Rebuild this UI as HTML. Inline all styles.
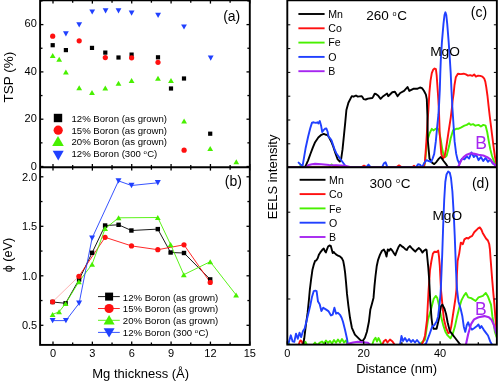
<!DOCTYPE html>
<html><head><meta charset="utf-8"><title>Figure</title>
<style>
html,body{margin:0;padding:0;background:#fff;}
body{width:498px;height:382px;overflow:hidden;}
svg{display:block;}
text{font-family:'Liberation Sans', Arial, Helvetica, sans-serif;}
</style></head><body>
<svg width="498" height="382" viewBox="0 0 498 382" font-family="'Liberation Sans', Arial, Helvetica, sans-serif">
<rect width="498" height="382" fill="#fff"/>
<rect x="50.6" y="43.1" width="4.2" height="4.2" fill="#000"/>
<rect x="63.8" y="48" width="4.2" height="4.2" fill="#000"/>
<rect x="89.9" y="45.8" width="4.2" height="4.2" fill="#000"/>
<rect x="103.2" y="50.5" width="4.2" height="4.2" fill="#000"/>
<rect x="116.4" y="55.4" width="4.2" height="4.2" fill="#000"/>
<rect x="129.5" y="52.5" width="4.2" height="4.2" fill="#000"/>
<rect x="155.9" y="55.2" width="4.2" height="4.2" fill="#000"/>
<rect x="168.9" y="86.4" width="4.2" height="4.2" fill="#000"/>
<rect x="181.9" y="76.4" width="4.2" height="4.2" fill="#000"/>
<rect x="208.1" y="131.6" width="4.2" height="4.2" fill="#000"/>
<circle cx="52.7" cy="36.2" r="2.6" fill="#ff1010"/>
<circle cx="79.2" cy="40.8" r="2.6" fill="#ff1010"/>
<circle cx="105.3" cy="57.6" r="2.6" fill="#ff1010"/>
<circle cx="131.6" cy="57.8" r="2.6" fill="#ff1010"/>
<circle cx="158" cy="62.3" r="2.6" fill="#ff1010"/>
<circle cx="184.1" cy="150.2" r="2.6" fill="#ff1010"/>
<polygon points="49.8,57.9 55.6,57.9 52.7,52.9" fill="#48f000"/>
<polygon points="56.3,61.8 62.1,61.8 59.2,56.8" fill="#48f000"/>
<polygon points="63,74.6 68.8,74.6 65.9,69.6" fill="#48f000"/>
<polygon points="76.3,90.2 82.1,90.2 79.2,85.2" fill="#48f000"/>
<polygon points="89.1,95.1 94.9,95.1 92,90.1" fill="#48f000"/>
<polygon points="102.4,90.5 108.2,90.5 105.3,85.5" fill="#48f000"/>
<polygon points="115.6,85.8 121.4,85.8 118.5,80.8" fill="#48f000"/>
<polygon points="128.7,83.1 134.5,83.1 131.6,78.1" fill="#48f000"/>
<polygon points="155.1,80.7 160.9,80.7 158,75.7" fill="#48f000"/>
<polygon points="168.1,83.1 173.9,83.1 171,78.1" fill="#48f000"/>
<polygon points="181.2,123.6 187,123.6 184.1,118.6" fill="#48f000"/>
<polygon points="207.3,151.1 213.1,151.1 210.2,146.1" fill="#48f000"/>
<polygon points="233.4,164.3 239.2,164.3 236.3,159.3" fill="#48f000"/>
<polygon points="63,31.3 68.8,31.3 65.9,36.5" fill="#2040ff"/>
<polygon points="76.3,22.3 82.1,22.3 79.2,27.5" fill="#2040ff"/>
<polygon points="89.3,9.4 95.1,9.4 92.2,14.6" fill="#2040ff"/>
<polygon points="102.7,8.3 108.5,8.3 105.6,13.5" fill="#2040ff"/>
<polygon points="115.6,8.3 121.4,8.3 118.5,13.5" fill="#2040ff"/>
<polygon points="128.7,10.6 134.5,10.6 131.6,15.8" fill="#2040ff"/>
<polygon points="155.2,12.8 161,12.8 158.1,18" fill="#2040ff"/>
<polygon points="181.1,24.4 186.9,24.4 184,29.6" fill="#2040ff"/>
<polygon points="207.8,55.5 213.6,55.5 210.7,60.7" fill="#2040ff"/>
<polyline points="52.6,302 65.6,303.3 79.1,279.5 92.1,252.8 105.1,225.5 118.6,224.8 131.4,230.5 157.8,229.1 170.6,252.5 184,253 210.2,279.4" fill="none" stroke="#000" stroke-width="0.9" stroke-linejoin="round" stroke-linecap="round"/>
<polyline points="52.6,301.8 78.9,276.3" fill="none" stroke="#ff8080" stroke-width="0.6" stroke-linejoin="round" stroke-linecap="round"/>
<polyline points="78.9,276.3 105.1,237.3 131.5,245.9 157.8,249.7 184,244.8 210.2,282.4" fill="none" stroke="#ff1010" stroke-width="0.9" stroke-linejoin="round" stroke-linecap="round"/>
<polyline points="52.6,314.4 59.1,311.8 65.6,303.5 78.9,281.7 92.1,264.3 105.1,228.6 118.6,217.8 157.8,217.5 170.6,244.5 183.8,274.7 210.2,261.7 236.1,294.9" fill="none" stroke="#48f000" stroke-width="0.9" stroke-linejoin="round" stroke-linecap="round"/>
<polyline points="52.6,320.6 65.9,320.6 79.1,303.3 92.1,238.1 118.5,180.9 131.5,185.5 157.8,182.8" fill="none" stroke="#2040ff" stroke-width="0.9" stroke-linejoin="round" stroke-linecap="round"/>
<rect x="50.4" y="299.8" width="4.4" height="4.4" fill="#000"/>
<rect x="63.4" y="301.1" width="4.4" height="4.4" fill="#000"/>
<rect x="76.9" y="277.3" width="4.4" height="4.4" fill="#000"/>
<rect x="89.9" y="250.6" width="4.4" height="4.4" fill="#000"/>
<rect x="102.9" y="223.3" width="4.4" height="4.4" fill="#000"/>
<rect x="116.4" y="222.6" width="4.4" height="4.4" fill="#000"/>
<rect x="129.2" y="228.3" width="4.4" height="4.4" fill="#000"/>
<rect x="155.6" y="226.9" width="4.4" height="4.4" fill="#000"/>
<rect x="168.4" y="250.3" width="4.4" height="4.4" fill="#000"/>
<rect x="181.8" y="250.8" width="4.4" height="4.4" fill="#000"/>
<rect x="208" y="277.2" width="4.4" height="4.4" fill="#000"/>
<circle cx="52.6" cy="301.8" r="2.6" fill="#ff1010"/>
<circle cx="78.9" cy="276.3" r="2.6" fill="#ff1010"/>
<circle cx="105.1" cy="237.3" r="2.6" fill="#ff1010"/>
<circle cx="131.5" cy="245.9" r="2.6" fill="#ff1010"/>
<circle cx="157.8" cy="249.7" r="2.6" fill="#ff1010"/>
<circle cx="184" cy="244.8" r="2.6" fill="#ff1010"/>
<circle cx="210.2" cy="282.4" r="2.6" fill="#ff1010"/>
<polygon points="49.7,316.9 55.5,316.9 52.6,311.9" fill="#48f000"/>
<polygon points="56.2,314.3 62,314.3 59.1,309.3" fill="#48f000"/>
<polygon points="62.7,306 68.5,306 65.6,301" fill="#48f000"/>
<polygon points="76,284.2 81.8,284.2 78.9,279.2" fill="#48f000"/>
<polygon points="89.2,266.8 95,266.8 92.1,261.8" fill="#48f000"/>
<polygon points="102.2,231.1 108,231.1 105.1,226.1" fill="#48f000"/>
<polygon points="115.7,220.3 121.5,220.3 118.6,215.3" fill="#48f000"/>
<polygon points="154.9,220 160.7,220 157.8,215" fill="#48f000"/>
<polygon points="167.7,247 173.5,247 170.6,242" fill="#48f000"/>
<polygon points="180.9,277.2 186.7,277.2 183.8,272.2" fill="#48f000"/>
<polygon points="207.3,264.2 213.1,264.2 210.2,259.2" fill="#48f000"/>
<polygon points="233.2,297.4 239,297.4 236.1,292.4" fill="#48f000"/>
<polygon points="49.6,317.9 55.6,317.9 52.6,323.3" fill="#2040ff"/>
<polygon points="62.9,317.9 68.9,317.9 65.9,323.3" fill="#2040ff"/>
<polygon points="76.1,300.6 82.1,300.6 79.1,306" fill="#2040ff"/>
<polygon points="89.1,235.4 95.1,235.4 92.1,240.8" fill="#2040ff"/>
<polygon points="115.5,178.2 121.5,178.2 118.5,183.6" fill="#2040ff"/>
<polygon points="128.5,182.8 134.5,182.8 131.5,188.2" fill="#2040ff"/>
<polygon points="154.8,180.1 160.8,180.1 157.8,185.5" fill="#2040ff"/>
<g clip-path="url(#clipc)">
<polyline points="287.5,167.5 299,167.5 301,165.3 303,167.5 329,167.5 331.6,164.4 334,167.5 424,167.5 425.5,158 427.1,141.4 429.5,133.5 431.8,128.8 433.4,130.4 435.8,128.8 437.3,128 438.9,130.4 440.5,138.2 442,147.6 443.6,155.5 445.2,157.1 446.7,155.5 449.1,146.1 450.7,138.2 453,130.4 456.2,128.8 458.1,128.8 461.3,127.3 464.4,125.7 466.8,124.9 469.1,123.3 470.7,124.9 473.1,124.1 475.4,125.7 478.5,124.9 480.9,126.5 483.3,124.9 485.6,125.7 487.2,132 488.8,141.4 490.3,149.2 491.9,155.5 493.5,160.2 495,163.4 496.5,166" fill="none" stroke="#48f000" stroke-width="1.9" stroke-linejoin="round" stroke-linecap="round"/>
<polyline points="287.5,167.5 333,167.5 336,165.6 339,167.5 361,167.5 364,165.6 367,167.5 396,167.5 399,165.4 402,167.5 412,167.5 414,165.8 416,167.5 423.5,167.5 424.8,163.3 426.4,141.4 427.5,122.5 428.4,110 429.4,92.7 430.5,80.9 431.8,73.1 433.1,69.8 434.6,68.5 435.9,69.2 436.7,75.7 437.6,88.8 438.3,99.2 439,112 439.7,133.5 441.3,153.9 442.8,158.6 444.4,157.1 446,149.2 448.3,133.5 450.7,117.8 451.9,108 452.7,100 453.7,93 454.5,85 455.8,77.3 457.9,73.7 460.8,74.1 463.7,73.7 465.9,74.4 468,75.6 470.2,75.1 472.3,75.9 474.2,74.4 475.9,76.6 478.1,75.6 480.3,75.9 482.4,76.6 484.3,78.7 485.3,81.6 486.3,87.4 487.5,96 488.6,106.1 489.6,115 490.6,123 491.9,133.5 493.5,146.1 495,157.1 496.6,164.2" fill="none" stroke="#ff1010" stroke-width="1.9" stroke-linejoin="round" stroke-linecap="round"/>
<polyline points="287.5,167.5 304,167.5 305.7,165.8 308.1,160.3 310.4,154 312.8,147.7 315.1,142.2 318.3,137.5 321.4,134.8 323.8,133.9 326.1,134.8 327.7,135.1 329.3,137.9 331.2,141.5 333.2,146.5 335.5,153.5 337.7,159.4 339.8,161.5 341.1,159.4 342.5,149.7 343.9,135.8 345.3,121.9 346.4,110 348.4,102.7 351.8,96.1 353.6,96.7 356,95.5 357.8,96.6 361.4,96.1 362.4,96.9 363.6,99.1 365.7,99.5 368,98.6 372.3,98 373.3,96.5 374.7,93.7 375.9,94 378.3,95.8 380.6,98.8 383.2,96.2 387.1,93.5 388.2,96.2 392.3,92.2 394.9,91.7 397.6,96.2 400.2,93 404.1,90.9 407.5,87 409.3,90.9 413.3,88.8 417.2,88.8 420,87.5 422,88.1 423.9,90.7 425.9,94.6 426.8,99.2 427.4,115 427.8,140 429.5,158.6 431.8,162.5 434.2,164.1 436.5,161.8 438.9,158.6 440.5,157.1 442,158.6 443.6,161 446,164.1 447.5,166.5 449,167.5 495.5,167.5" fill="none" stroke="#000" stroke-width="1.9" stroke-linejoin="round" stroke-linecap="round"/>
<polyline points="298.6,162.6 300.5,164.5 302.6,165.8 304.1,157.1 305.7,147.7 308.1,136.7 310.1,128.8 312,122.6 313.6,122.3 315.9,122.9 317.5,122.3 318.3,123.4 319.8,121 321.1,125.7 322.2,132 323.3,130.4 324.9,128.8 326.4,128.5 327.7,132 328.5,136.7 330.1,138.3 331.6,140.6 333.2,145.3 334.8,150 336.3,153.2 337.9,155.5 339.5,157.9 341.8,161 344.2,164.2 346,167.5 366,167.5 368.5,164.6 371,167.5 382,167.5 384,163.2 385.5,162.2 387.5,167.5 416,167.5 418,164.2 420,164.6 422,167.5 424,163.3 426.4,160.2 428.7,161 431.1,161.8 432.6,158.6 434.2,153.9 435.8,141.4 437.3,125.7 438.4,114.7 439.1,104 439.8,90 440.3,73.1 440.8,60 441.9,42.4 443.5,23.6 444.5,15 445.4,12.3 446.3,15 447.2,23.6 448.7,42.4 449.9,60 450.7,73.1 451.6,92.7 452.4,108 453.2,120 454.6,141.4 456.2,153.9 457.7,160.2 459.3,163.5 460.2,161.8 462.1,158.6 464.4,159.4 466.8,156.3 469.1,158.6 471.5,152.4 473.8,157.1 476.2,154.7 478.5,160.2 480.9,157.1 483.3,161 485.6,157.9 488,161.8 490.3,159.4 492.7,163.4 495,165 496.5,167.5" fill="none" stroke="#2040ff" stroke-width="1.9" stroke-linejoin="round" stroke-linecap="round"/>
<polyline points="287.5,167.5 306,167.5 308.8,165 312,164.3 315.1,163.9 321.4,164.2 329.3,165 337.1,165.3 345,165.8 352,167.5 457,167.5 458.9,165.7 461.3,160.2 463.6,157.1 466.8,154.7 470.7,153.2 474.6,153.9 478.5,154.7 483.3,155.5 487.2,157.1 490.3,159.4 492.7,162.6 495,165 496.5,167" fill="none" stroke="#a626f0" stroke-width="2.1" stroke-linejoin="round" stroke-linecap="round"/>
</g>
<g clip-path="url(#clipd)">
<polyline points="287.5,345.2 288.5,342.5 290,345.2 304,345.2 305.5,341.8 307,345.2 313,345.2 315,342.5 317,345.2 320,342.5 322,341.5 324,343.5 326,340.5 328,342.8 330,341 332,343.5 334,340 336,342.8 338,339.5 340,342.5 342,339 344,342.5 346,340.5 348,345.2 372,345.2 373.9,340 375.5,337.7 377,341.5 378.5,338 380,341 381.8,345.2 418,345.2 421,343 425,339.7 428,319.8 431.5,307.6 433.7,298.8 435.9,295.9 437.3,298.1 438.8,304.6 441,316.4 443.2,325.1 445.4,331.7 447.6,335.4 450.5,338.3 452.7,333.9 454.9,326.6 457.1,316.4 459.3,307.6 461.5,300.2 463.8,295.9 466,292.9 468.2,297.3 471.2,298.1 475.6,301 478.5,297.3 482.9,295.9 485.8,292.9 488,296.6 491,304.7 492.4,316.4 493.9,325.2 494.9,331.9 496.5,337" fill="none" stroke="#48f000" stroke-width="1.9" stroke-linejoin="round" stroke-linecap="round"/>
<polyline points="287.5,345.2 298.5,345.2 299.8,341.5 300.7,340.5 301.8,341.5 303,345.2 382,345.2 384,341 385.8,339.7 387.5,342.5 390,339.5 392.5,341.5 395,345.2 421,345.2 423,342 425,335.7 427,319.8 428.6,289.9 430,270 431.4,261 432.9,253.6 434.5,251.7 436.6,252 438.2,250.6 439,256.7 439.8,266 441,290 442.4,304.6 443.9,319.3 446.1,328.1 448.3,333.2 449.8,332.5 451.2,326.6 453.4,312 455.6,297.3 456.4,290 456.9,275 457.6,261 459.2,253.6 460.8,242.6 462.8,244.2 464.4,239.4 466.7,237.9 468.3,238.5 470.3,236.8 472.2,235.9 474.2,232.2 476.2,230.3 478.1,228.3 479.8,227.4 481.4,229.6 482.7,232.9 484.5,236 486,238.5 487.9,240.5 489.2,244 489.9,249 490.6,259 492.1,278.6 493.5,294.9 494.4,304.7 495.4,317.7 496.5,330" fill="none" stroke="#ff1010" stroke-width="1.9" stroke-linejoin="round" stroke-linecap="round"/>
<polyline points="287.5,345.2 303,345.2 304.2,338.8 305.9,325 307.6,312.9 309,299 309.8,290 311.1,279.3 312.4,270.1 313.7,264.9 315.1,260.9 316.4,260.3 317.7,258.3 319,254.4 320.3,252.4 322.3,249.8 323.8,248.5 324.9,251.1 325.9,252.4 326.8,249.8 328.1,246.5 329.5,245.5 330.8,245.9 331.7,249.2 332.7,253.1 333.8,252 334.7,253.1 336,254.4 338,255.7 339.9,256.4 341.9,258.3 343.2,260.9 344.2,266.2 345.1,272.7 346,282 347,293.9 348.4,305.9 350,317.8 351.9,327.8 354.9,334.7 357.9,337.7 360.9,340.7 362.9,340.7 364.9,337.7 366.9,331.8 368.9,321.8 370.3,309.8 371.9,303.9 373.5,297.9 374.5,285.9 375.5,276 376.7,266.3 378.1,259.8 380,254.6 382,250.7 383.9,249.6 385.2,252 386.5,256.5 387.8,249.4 389.2,250.7 390.5,248.7 391.8,250 393.5,252.6 395.3,255.2 397,250.7 398.7,246.7 400,244.8 401.6,246.1 403.5,247.4 405.5,249.4 406.8,250 408.3,247.4 410,246.1 411.7,248.1 413.6,250 415.3,251.7 417.2,249.4 418.8,248.1 420.5,249.4 422.4,252.6 424,250.7 425.7,249.4 426.6,250 427.4,258.5 428.3,267.6 429.2,280 430.2,300 431.5,318 432.5,326 433.7,328.8 436.6,328.8 438.8,319.3 441,306.1 442.4,304.6 444.6,309 446.1,314.2 447.6,322.2 449.8,331 452,333.9 454.2,336.8 457.1,340.5 459.3,343.4 461,345.2 495.5,345.2" fill="none" stroke="#000" stroke-width="1.9" stroke-linejoin="round" stroke-linecap="round"/>
<polyline points="288.6,343.1 290.8,335.3 292.6,341.4 294.3,341.9 296,333.6 297.8,338.8 299.5,332.7 301.2,337.1 303,331 304.7,328.4 306.4,321.5 308.1,314.6 310.2,305.9 311.9,297.3 313.7,291.2 315.4,290.7 316.6,291.2 318,301.6 319.7,304.2 321.4,311.1 323.2,307.7 325.8,309.4 328.4,311.1 331,315.4 332.7,314.6 334.4,307.7 336.1,313.7 338,312.8 340,314.8 341.6,317.8 343,321.8 345,329.8 347,338.7 348,345.2 400,345.2 401.5,336 403,341 405,338 407,341.5 409,339 411,342 413,340 415,342.5 417,340 419,342.5 421,345.2 424,345.2 426,343.6 429,335.7 432.2,326.6 434.4,325.1 436.6,321.5 438.1,316.4 439.5,304.6 440.5,294.4 441,285 441.6,270 442.2,255 442.7,240 443.2,225 444.2,200 445.3,182 446.5,174.5 448.2,171.5 449.8,172.8 451,178 452.4,191.5 453.8,215.1 454.7,235 455.4,253.6 456,270 456.6,282 457.1,290 458.5,301.7 460.7,309 462.3,316 463.8,326.7 465.3,331.9 466.7,325.2 468.2,322.3 469.7,326.7 471.9,329.6 474.1,328.2 477,326 478.5,324.5 480,328.2 481.4,326 483.6,329.6 485.8,332.6 488,335.5 490.2,341.4 492.4,345.2 495.5,345.2" fill="none" stroke="#2040ff" stroke-width="1.9" stroke-linejoin="round" stroke-linecap="round"/>
<polyline points="287.5,345.2 346,345.2 348,343.7 353,342.5 357.9,341.7 363,342.2 367.9,342.7 370.9,345.2 465,345.2 466,344.3 468.2,334 471.2,323.8 474.1,319.4 478.5,317.2 484.4,316.1 488.8,317.2 491.7,320.1 493.9,325.2 495.4,330.4 496.5,334" fill="none" stroke="#a626f0" stroke-width="2.1" stroke-linejoin="round" stroke-linecap="round"/>
</g>
<defs><clipPath id="clipc"><rect x="287" y="0" width="210" height="167"/></clipPath><clipPath id="clipd"><rect x="287" y="167" width="210" height="177.5"/></clipPath></defs>
<line x1="53" y1="0.3" x2="53" y2="3.6" stroke="#000" stroke-width="1.3"/>
<line x1="53" y1="167.3" x2="53" y2="164" stroke="#000" stroke-width="1.3"/>
<line x1="53" y1="167.3" x2="53" y2="170.6" stroke="#000" stroke-width="1.3"/>
<line x1="53" y1="344.9" x2="53" y2="341.6" stroke="#000" stroke-width="1.3"/>
<line x1="72.68" y1="0.3" x2="72.68" y2="2.7" stroke="#000" stroke-width="1.3"/>
<line x1="72.68" y1="167.3" x2="72.68" y2="164.9" stroke="#000" stroke-width="1.3"/>
<line x1="72.68" y1="167.3" x2="72.68" y2="169.7" stroke="#000" stroke-width="1.3"/>
<line x1="72.68" y1="344.9" x2="72.68" y2="342.5" stroke="#000" stroke-width="1.3"/>
<line x1="92.36" y1="0.3" x2="92.36" y2="3.6" stroke="#000" stroke-width="1.3"/>
<line x1="92.36" y1="167.3" x2="92.36" y2="164" stroke="#000" stroke-width="1.3"/>
<line x1="92.36" y1="167.3" x2="92.36" y2="170.6" stroke="#000" stroke-width="1.3"/>
<line x1="92.36" y1="344.9" x2="92.36" y2="341.6" stroke="#000" stroke-width="1.3"/>
<line x1="112.04" y1="0.3" x2="112.04" y2="2.7" stroke="#000" stroke-width="1.3"/>
<line x1="112.04" y1="167.3" x2="112.04" y2="164.9" stroke="#000" stroke-width="1.3"/>
<line x1="112.04" y1="167.3" x2="112.04" y2="169.7" stroke="#000" stroke-width="1.3"/>
<line x1="112.04" y1="344.9" x2="112.04" y2="342.5" stroke="#000" stroke-width="1.3"/>
<line x1="131.72" y1="0.3" x2="131.72" y2="3.6" stroke="#000" stroke-width="1.3"/>
<line x1="131.72" y1="167.3" x2="131.72" y2="164" stroke="#000" stroke-width="1.3"/>
<line x1="131.72" y1="167.3" x2="131.72" y2="170.6" stroke="#000" stroke-width="1.3"/>
<line x1="131.72" y1="344.9" x2="131.72" y2="341.6" stroke="#000" stroke-width="1.3"/>
<line x1="151.4" y1="0.3" x2="151.4" y2="2.7" stroke="#000" stroke-width="1.3"/>
<line x1="151.4" y1="167.3" x2="151.4" y2="164.9" stroke="#000" stroke-width="1.3"/>
<line x1="151.4" y1="167.3" x2="151.4" y2="169.7" stroke="#000" stroke-width="1.3"/>
<line x1="151.4" y1="344.9" x2="151.4" y2="342.5" stroke="#000" stroke-width="1.3"/>
<line x1="171.08" y1="0.3" x2="171.08" y2="3.6" stroke="#000" stroke-width="1.3"/>
<line x1="171.08" y1="167.3" x2="171.08" y2="164" stroke="#000" stroke-width="1.3"/>
<line x1="171.08" y1="167.3" x2="171.08" y2="170.6" stroke="#000" stroke-width="1.3"/>
<line x1="171.08" y1="344.9" x2="171.08" y2="341.6" stroke="#000" stroke-width="1.3"/>
<line x1="190.76" y1="0.3" x2="190.76" y2="2.7" stroke="#000" stroke-width="1.3"/>
<line x1="190.76" y1="167.3" x2="190.76" y2="164.9" stroke="#000" stroke-width="1.3"/>
<line x1="190.76" y1="167.3" x2="190.76" y2="169.7" stroke="#000" stroke-width="1.3"/>
<line x1="190.76" y1="344.9" x2="190.76" y2="342.5" stroke="#000" stroke-width="1.3"/>
<line x1="210.44" y1="0.3" x2="210.44" y2="3.6" stroke="#000" stroke-width="1.3"/>
<line x1="210.44" y1="167.3" x2="210.44" y2="164" stroke="#000" stroke-width="1.3"/>
<line x1="210.44" y1="167.3" x2="210.44" y2="170.6" stroke="#000" stroke-width="1.3"/>
<line x1="210.44" y1="344.9" x2="210.44" y2="341.6" stroke="#000" stroke-width="1.3"/>
<line x1="230.12" y1="0.3" x2="230.12" y2="2.7" stroke="#000" stroke-width="1.3"/>
<line x1="230.12" y1="167.3" x2="230.12" y2="164.9" stroke="#000" stroke-width="1.3"/>
<line x1="230.12" y1="167.3" x2="230.12" y2="169.7" stroke="#000" stroke-width="1.3"/>
<line x1="230.12" y1="344.9" x2="230.12" y2="342.5" stroke="#000" stroke-width="1.3"/>
<line x1="249.8" y1="0.3" x2="249.8" y2="3.6" stroke="#000" stroke-width="1.3"/>
<line x1="249.8" y1="167.3" x2="249.8" y2="164" stroke="#000" stroke-width="1.3"/>
<line x1="249.8" y1="167.3" x2="249.8" y2="170.6" stroke="#000" stroke-width="1.3"/>
<line x1="249.8" y1="344.9" x2="249.8" y2="341.6" stroke="#000" stroke-width="1.3"/>
<line x1="40.1" y1="166.5" x2="43.4" y2="166.5" stroke="#000" stroke-width="1.3"/>
<line x1="249.8" y1="166.5" x2="246.5" y2="166.5" stroke="#000" stroke-width="1.3"/>
<line x1="40.1" y1="142.85" x2="42.5" y2="142.85" stroke="#000" stroke-width="1.3"/>
<line x1="249.8" y1="142.85" x2="247.4" y2="142.85" stroke="#000" stroke-width="1.3"/>
<line x1="40.1" y1="119.2" x2="43.4" y2="119.2" stroke="#000" stroke-width="1.3"/>
<line x1="249.8" y1="119.2" x2="246.5" y2="119.2" stroke="#000" stroke-width="1.3"/>
<line x1="40.1" y1="95.55" x2="42.5" y2="95.55" stroke="#000" stroke-width="1.3"/>
<line x1="249.8" y1="95.55" x2="247.4" y2="95.55" stroke="#000" stroke-width="1.3"/>
<line x1="40.1" y1="71.9" x2="43.4" y2="71.9" stroke="#000" stroke-width="1.3"/>
<line x1="249.8" y1="71.9" x2="246.5" y2="71.9" stroke="#000" stroke-width="1.3"/>
<line x1="40.1" y1="48.25" x2="42.5" y2="48.25" stroke="#000" stroke-width="1.3"/>
<line x1="249.8" y1="48.25" x2="247.4" y2="48.25" stroke="#000" stroke-width="1.3"/>
<line x1="40.1" y1="24.6" x2="43.4" y2="24.6" stroke="#000" stroke-width="1.3"/>
<line x1="249.8" y1="24.6" x2="246.5" y2="24.6" stroke="#000" stroke-width="1.3"/>
<line x1="40.1" y1="0.95" x2="42.5" y2="0.95" stroke="#000" stroke-width="1.3"/>
<line x1="249.8" y1="0.95" x2="247.4" y2="0.95" stroke="#000" stroke-width="1.3"/>
<line x1="40.1" y1="325.3" x2="43.4" y2="325.3" stroke="#000" stroke-width="1.3"/>
<line x1="249.8" y1="325.3" x2="246.5" y2="325.3" stroke="#000" stroke-width="1.3"/>
<line x1="40.1" y1="300.55" x2="42.5" y2="300.55" stroke="#000" stroke-width="1.3"/>
<line x1="249.8" y1="300.55" x2="247.4" y2="300.55" stroke="#000" stroke-width="1.3"/>
<line x1="40.1" y1="275.8" x2="43.4" y2="275.8" stroke="#000" stroke-width="1.3"/>
<line x1="249.8" y1="275.8" x2="246.5" y2="275.8" stroke="#000" stroke-width="1.3"/>
<line x1="40.1" y1="251.05" x2="42.5" y2="251.05" stroke="#000" stroke-width="1.3"/>
<line x1="249.8" y1="251.05" x2="247.4" y2="251.05" stroke="#000" stroke-width="1.3"/>
<line x1="40.1" y1="226.3" x2="43.4" y2="226.3" stroke="#000" stroke-width="1.3"/>
<line x1="249.8" y1="226.3" x2="246.5" y2="226.3" stroke="#000" stroke-width="1.3"/>
<line x1="40.1" y1="201.55" x2="42.5" y2="201.55" stroke="#000" stroke-width="1.3"/>
<line x1="249.8" y1="201.55" x2="247.4" y2="201.55" stroke="#000" stroke-width="1.3"/>
<line x1="40.1" y1="176.8" x2="43.4" y2="176.8" stroke="#000" stroke-width="1.3"/>
<line x1="249.8" y1="176.8" x2="246.5" y2="176.8" stroke="#000" stroke-width="1.3"/>
<line x1="287.3" y1="344.6" x2="287.3" y2="341.3" stroke="#000" stroke-width="1.3"/>
<line x1="325.5" y1="344.6" x2="325.5" y2="342.2" stroke="#000" stroke-width="1.3"/>
<line x1="363.7" y1="344.6" x2="363.7" y2="341.3" stroke="#000" stroke-width="1.3"/>
<line x1="401.9" y1="344.6" x2="401.9" y2="342.2" stroke="#000" stroke-width="1.3"/>
<line x1="440.1" y1="344.6" x2="440.1" y2="341.3" stroke="#000" stroke-width="1.3"/>
<line x1="478.3" y1="344.6" x2="478.3" y2="342.2" stroke="#000" stroke-width="1.3"/>
<line x1="287.3" y1="143.8" x2="290.3" y2="143.8" stroke="#000" stroke-width="1.0"/>
<line x1="496.85" y1="143.8" x2="493.85" y2="143.8" stroke="#000" stroke-width="1.0"/>
<line x1="287.3" y1="120" x2="290.3" y2="120" stroke="#000" stroke-width="1.0"/>
<line x1="496.85" y1="120" x2="493.85" y2="120" stroke="#000" stroke-width="1.0"/>
<line x1="287.3" y1="96.2" x2="290.3" y2="96.2" stroke="#000" stroke-width="1.0"/>
<line x1="496.85" y1="96.2" x2="493.85" y2="96.2" stroke="#000" stroke-width="1.0"/>
<line x1="287.3" y1="72.4" x2="290.3" y2="72.4" stroke="#000" stroke-width="1.0"/>
<line x1="496.85" y1="72.4" x2="493.85" y2="72.4" stroke="#000" stroke-width="1.0"/>
<line x1="287.3" y1="48.6" x2="290.3" y2="48.6" stroke="#000" stroke-width="1.0"/>
<line x1="496.85" y1="48.6" x2="493.85" y2="48.6" stroke="#000" stroke-width="1.0"/>
<line x1="287.3" y1="24.8" x2="290.3" y2="24.8" stroke="#000" stroke-width="1.0"/>
<line x1="496.85" y1="24.8" x2="493.85" y2="24.8" stroke="#000" stroke-width="1.0"/>
<line x1="287.3" y1="212.2" x2="290.3" y2="212.2" stroke="#000" stroke-width="1.0"/>
<line x1="496.85" y1="212.2" x2="493.85" y2="212.2" stroke="#000" stroke-width="1.0"/>
<line x1="287.3" y1="255.6" x2="290.3" y2="255.6" stroke="#000" stroke-width="1.0"/>
<line x1="496.85" y1="255.6" x2="493.85" y2="255.6" stroke="#000" stroke-width="1.0"/>
<line x1="287.3" y1="299" x2="290.3" y2="299" stroke="#000" stroke-width="1.0"/>
<line x1="496.85" y1="299" x2="493.85" y2="299" stroke="#000" stroke-width="1.0"/>
<rect x="40.1" y="0.3" width="209.7" height="344.6" fill="none" stroke="#000" stroke-width="1.9"/>
<line x1="40.1" y1="167.3" x2="249.8" y2="167.3" stroke="#000" stroke-width="1.9"/>
<rect x="287.3" y="0.3" width="209.55" height="344.3" fill="none" stroke="#000" stroke-width="1.9"/>
<line x1="287.3" y1="167.3" x2="496.85" y2="167.3" stroke="#000" stroke-width="1.9"/>
<text x="36.8" y="27" font-size="11" text-anchor="end" fill="#000">60</text>
<text x="36.8" y="74.6" font-size="11" text-anchor="end" fill="#000">40</text>
<text x="36.8" y="122" font-size="11" text-anchor="end" fill="#000">20</text>
<text x="36.8" y="169.7" font-size="11" text-anchor="end" fill="#000">0</text>
<text x="37.2" y="180.6" font-size="11" text-anchor="end" fill="#000">2.0</text>
<text x="37.2" y="230" font-size="11" text-anchor="end" fill="#000">1.5</text>
<text x="37.2" y="279.6" font-size="11" text-anchor="end" fill="#000">1.0</text>
<text x="37.2" y="329" font-size="11" text-anchor="end" fill="#000">0.5</text>
<text x="53" y="356.8" font-size="11" text-anchor="middle" fill="#000">0</text>
<text x="92.36" y="356.8" font-size="11" text-anchor="middle" fill="#000">3</text>
<text x="131.72" y="356.8" font-size="11" text-anchor="middle" fill="#000">6</text>
<text x="171.08" y="356.8" font-size="11" text-anchor="middle" fill="#000">9</text>
<text x="210.44" y="356.8" font-size="11" text-anchor="middle" fill="#000">12</text>
<text x="249.8" y="356.8" font-size="11" text-anchor="middle" fill="#000">15</text>
<text x="287.3" y="356.8" font-size="11" text-anchor="middle" fill="#000">0</text>
<text x="363.7" y="356.8" font-size="11" text-anchor="middle" fill="#000">20</text>
<text x="440.1" y="356.8" font-size="11" text-anchor="middle" fill="#000">40</text>
<text x="140.7" y="377.6" font-size="13" text-anchor="middle" fill="#000">Mg thickness (&#197;)</text>
<text x="396.7" y="373.4" font-size="13" text-anchor="middle" fill="#000">Distance (nm)</text>
<text transform="translate(12.6,77.2) rotate(-90)" font-size="13.5" text-anchor="middle">TSP (%)</text>
<text transform="translate(11.9,255) rotate(-90)" font-size="12.7" text-anchor="middle">&#981; (eV)</text>
<text transform="translate(277.2,176.9) rotate(-90)" font-size="13" text-anchor="middle">EELS intensity</text>
<text x="231.7" y="20.6" font-size="14" text-anchor="middle" fill="#000">(a)</text>
<text x="233.4" y="185.9" font-size="14" text-anchor="middle" fill="#000">(b)</text>
<text x="479" y="17.2" font-size="14" text-anchor="middle" fill="#000">(c)</text>
<text x="480.5" y="187.6" font-size="14" text-anchor="middle" fill="#000">(d)</text>
<rect x="53.8" y="113.8" width="8.4" height="8.4" fill="#000"/>
<circle cx="58.2" cy="130.2" r="4.6" fill="#ff1010"/>
<polygon points="52.2,145.9 63.8,145.9 58,136.1" fill="#48f000"/>
<polygon points="52.7,150.8 63.7,150.8 58.2,160.4" fill="#2040ff"/>
<text x="71.5" y="122" font-size="9.6" text-anchor="start" fill="#000">12% Boron (as grown)</text>
<text x="71.5" y="133.6" font-size="9.6" text-anchor="start" fill="#000">15% Boron (as grown)</text>
<text x="71.5" y="145.2" font-size="9.6" text-anchor="start" fill="#000">20% Boron (as grown)</text>
<text x="71.5" y="157" font-size="9.6" text-anchor="start" fill="#000">12% Boron (300 <tspan font-size="6" dy="-2.7">o</tspan><tspan dx="0.3" dy="2.7">C)</tspan></text>
<line x1="98" y1="296.6" x2="119.8" y2="296.6" stroke="#000" stroke-width="0.9"/>
<line x1="98" y1="308.5" x2="119.8" y2="308.5" stroke="#ff1010" stroke-width="0.9"/>
<line x1="98" y1="320.3" x2="119.8" y2="320.3" stroke="#48f000" stroke-width="0.9"/>
<line x1="98" y1="332.4" x2="119.8" y2="332.4" stroke="#2040ff" stroke-width="0.9"/>
<rect x="105.1" y="292.6" width="8" height="8" fill="#000"/>
<circle cx="109.1" cy="308.5" r="4.6" fill="#ff1010"/>
<polygon points="103.6,324.5 114.6,324.5 109.1,315.1" fill="#48f000"/>
<polygon points="103.6,328.2 114.6,328.2 109.1,337.6" fill="#2040ff"/>
<text x="122.8" y="300.6" font-size="9.6" text-anchor="start" fill="#000">12% Boron (as grown)</text>
<text x="122.8" y="312.3" font-size="9.6" text-anchor="start" fill="#000">15% Boron (as grown)</text>
<text x="122.8" y="324.1" font-size="9.6" text-anchor="start" fill="#000">20% Boron (as grown)</text>
<text x="122.8" y="336" font-size="9.6" text-anchor="start" fill="#000">12% Boron (300 <tspan font-size="6" dy="-2.7">o</tspan><tspan dx="0.3" dy="2.7">C)</tspan></text>
<line x1="298.4" y1="14" x2="324.6" y2="14" stroke="#000" stroke-width="1.9"/>
<text x="328.3" y="17.6" font-size="10.6" text-anchor="start" fill="#000">Mn</text>
<line x1="298.4" y1="28.3" x2="324.6" y2="28.3" stroke="#ff1010" stroke-width="1.9"/>
<text x="328.3" y="31.9" font-size="10.6" text-anchor="start" fill="#000">Co</text>
<line x1="298.4" y1="42.6" x2="324.6" y2="42.6" stroke="#48f000" stroke-width="1.9"/>
<text x="328.3" y="46.2" font-size="10.6" text-anchor="start" fill="#000">Fe</text>
<line x1="298.4" y1="56.9" x2="324.6" y2="56.9" stroke="#2040ff" stroke-width="1.9"/>
<text x="328.3" y="60.5" font-size="10.6" text-anchor="start" fill="#000">O</text>
<line x1="298.4" y1="71.2" x2="324.6" y2="71.2" stroke="#a626f0" stroke-width="1.9"/>
<text x="328.3" y="74.8" font-size="10.6" text-anchor="start" fill="#000">B</text>
<line x1="299.6" y1="179.8" x2="325.5" y2="179.8" stroke="#000" stroke-width="1.9"/>
<text x="329.1" y="183.9" font-size="10.6" text-anchor="start" fill="#000">Mn</text>
<line x1="299.6" y1="194.1" x2="325.5" y2="194.1" stroke="#ff1010" stroke-width="1.9"/>
<text x="329.1" y="198.2" font-size="10.6" text-anchor="start" fill="#000">Co</text>
<line x1="299.6" y1="208.4" x2="325.5" y2="208.4" stroke="#48f000" stroke-width="1.9"/>
<text x="329.1" y="212.5" font-size="10.6" text-anchor="start" fill="#000">Fe</text>
<line x1="299.6" y1="222.7" x2="325.5" y2="222.7" stroke="#2040ff" stroke-width="1.9"/>
<text x="329.1" y="226.8" font-size="10.6" text-anchor="start" fill="#000">O</text>
<line x1="299.6" y1="237" x2="325.5" y2="237" stroke="#a626f0" stroke-width="1.9"/>
<text x="329.1" y="241.1" font-size="10.6" text-anchor="start" fill="#000">B</text>
<text x="366.2" y="20.4" font-size="13.5" text-anchor="start" fill="#000">260 <tspan font-size="7.2" dy="-4.9">o</tspan><tspan dx="0.8" dy="4.9">C</tspan></text>
<text x="369.6" y="187.8" font-size="13.5" text-anchor="start" fill="#000">300 <tspan font-size="7.2" dy="-4.9">o</tspan><tspan dx="0.8" dy="4.9">C</tspan></text>
<text x="430.2" y="55.5" font-size="13.7" text-anchor="start" fill="#000">MgO</text>
<text x="432.4" y="219.6" font-size="13.7" text-anchor="start" fill="#000">MgO</text>
<text x="481.1" y="149.4" font-size="17.5" text-anchor="middle" fill="#a626f0">B</text>
<text x="480.8" y="315.2" font-size="17.5" text-anchor="middle" fill="#a626f0">B</text>
</svg>
</body></html>
